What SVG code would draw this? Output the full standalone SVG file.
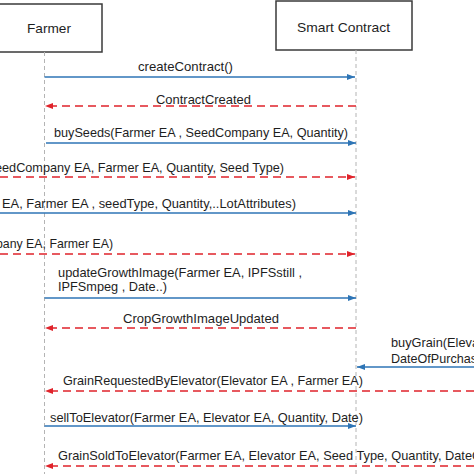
<svg xmlns="http://www.w3.org/2000/svg" width="474" height="474" viewBox="0 0 474 474">
<defs>
<style>
.box{fill:#fff;stroke:#3a3a3a;stroke-width:1.5}
.life{stroke:#b4b4b4;stroke-width:1;stroke-dasharray:4 3;fill:none}
.call{stroke:#2e75b6;stroke-width:1.4;fill:none;marker-end:url(#hb)}
.ret{stroke:#e0232b;stroke-width:1.4;stroke-dasharray:8 5;fill:none;marker-end:url(#hr)}
text{font-family:"Liberation Sans",Arial,sans-serif;font-size:13px;fill:#1e1e1e}
.t{font-size:13.5px}
</style>
<marker id="hb" viewBox="0 0 8 6" refX="8" refY="3" markerWidth="8" markerHeight="6" markerUnits="userSpaceOnUse" orient="auto"><path d="M0,0 L8,3 L0,6 z" fill="#2e75b6"/></marker>
<marker id="hr" viewBox="0 0 8 6" refX="8" refY="3" markerWidth="8" markerHeight="6" markerUnits="userSpaceOnUse" orient="auto"><path d="M0,0 L8,3 L0,6 z" fill="#e0232b"/></marker>
</defs>
<rect width="474" height="474" fill="#fff"/>
<g id="farmer">
<rect class="box" x="-2" y="4" width="104" height="48"/>
<text class="t" x="27" y="33" textLength="44" lengthAdjust="spacingAndGlyphs">Farmer</text>
<line class="life" x1="44.5" y1="52" x2="44.5" y2="474"/>
</g>
<g id="smart-contract">
<rect class="box" x="276" y="1" width="136" height="49"/>
<text class="t" x="297" y="32" textLength="93" lengthAdjust="spacingAndGlyphs">Smart Contract</text>
<line class="life" x1="356" y1="50" x2="356" y2="474"/>
</g>
<g id="connectors">
<line class="call" x1="44.5" y1="77" x2="355" y2="77"/>
<line class="ret" x1="356" y1="106" x2="45" y2="106"/>
<line class="call" x1="46" y1="143" x2="356" y2="143"/>
<line class="ret" x1="0" y1="177" x2="355" y2="177"/>
<line class="call" x1="0" y1="213" x2="356" y2="213"/>
<line class="ret" x1="0" y1="254" x2="355" y2="254"/>
<line class="call" x1="44.5" y1="298" x2="356" y2="298"/>
<line class="ret" x1="356" y1="328" x2="45" y2="328"/>
<line class="call" x1="474" y1="367" x2="357" y2="367"/>
<line class="ret" x1="474" y1="391" x2="45" y2="391"/>
<line class="call" x1="44.5" y1="426" x2="356" y2="426"/>
<line class="ret" x1="474" y1="466" x2="45" y2="466"/>
</g>
<g id="labels">
<text x="138" y="71" textLength="95" lengthAdjust="spacingAndGlyphs">createContract()</text>
<text x="156" y="104" textLength="95" lengthAdjust="spacingAndGlyphs">ContractCreated</text>
<text x="54" y="137" textLength="294" lengthAdjust="spacingAndGlyphs">buySeeds(Farmer EA , SeedCompany EA, Quantity)</text>
<text x="-5" y="172" textLength="289" lengthAdjust="spacingAndGlyphs">eedCompany EA, Farmer EA, Quantity, Seed Type)</text>
<text x="2" y="208" textLength="294" lengthAdjust="spacingAndGlyphs">EA, Farmer EA , seedType, Quantity,..LotAttributes)</text>
<text x="-4" y="248" textLength="117" lengthAdjust="spacingAndGlyphs">pany EA, Farmer EA)</text>
<text x="58" y="277" textLength="244" lengthAdjust="spacingAndGlyphs">updateGrowthImage(Farmer EA, IPFSstill ,</text>
<text x="58" y="291" textLength="109" lengthAdjust="spacingAndGlyphs">IPFSmpeg ,  Date..)</text>
<text x="123" y="323" textLength="156" lengthAdjust="spacingAndGlyphs">CropGrowthImageUpdated</text>
<text x="391" y="347" textLength="88" lengthAdjust="spacingAndGlyphs">buyGrain(Eleva</text>
<text x="391" y="363" textLength="86" lengthAdjust="spacingAndGlyphs">DateOfPurchas</text>
<text x="63" y="385" textLength="300" lengthAdjust="spacingAndGlyphs">GrainRequestedByElevator(Elevator EA , Farmer EA)</text>
<text x="50" y="422" textLength="313" lengthAdjust="spacingAndGlyphs">sellToElevator(Farmer EA, Elevator EA, Quantity, Date)</text>
<text x="58" y="460" textLength="424" lengthAdjust="spacingAndGlyphs">GrainSoldToElevator(Farmer EA, Elevator EA, Seed Type, Quantity, DateO</text>
</g>
</svg>
